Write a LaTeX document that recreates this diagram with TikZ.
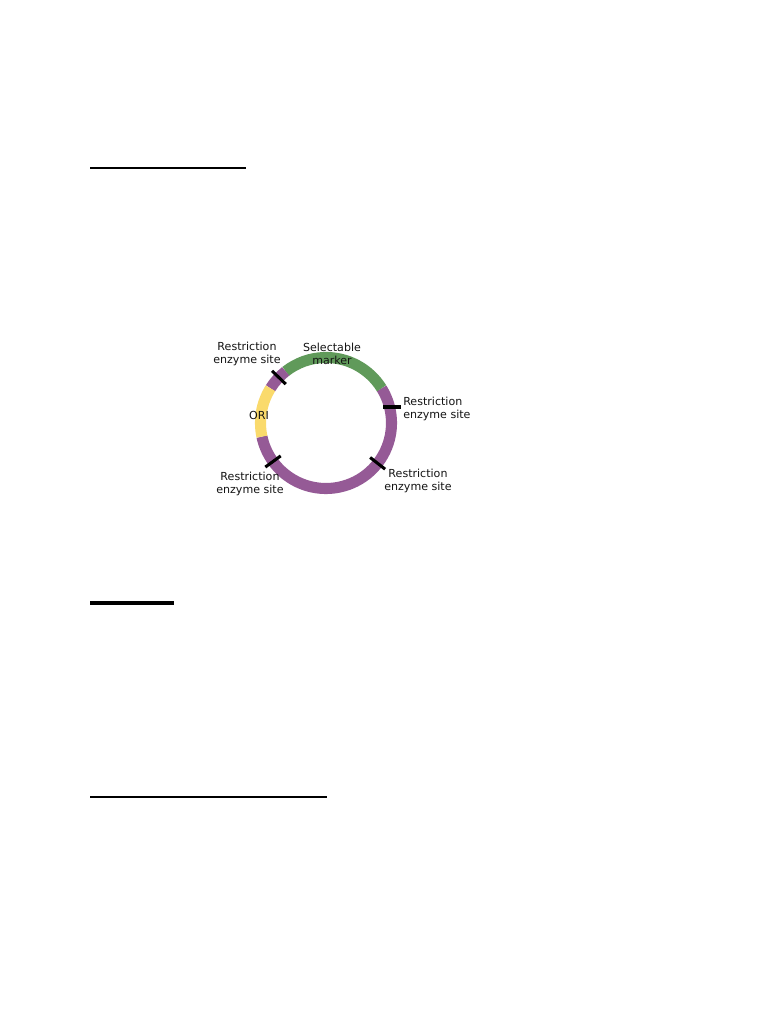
\documentclass[tikz,border=0pt]{standalone}
\usepackage{fontspec}
\newfontfamily\labfont{DejaVu Sans}
\definecolor{ringpurple}{RGB}{149,90,150}
\definecolor{ringgreen}{RGB}{96,154,90}
\definecolor{ringyellow}{RGB}{250,218,108}
\definecolor{labgray}{RGB}{20,20,20}
\tikzset{
  rule/.style={draw=black, line width=1.6pt},
  band/.style={line width=8.3pt, line cap=butt},
  cut/.style={draw=black, line width=2.3pt, line cap=butt},
  lab/.style={inner sep=0pt, text=labgray, font=\labfont\fontsize{8.3pt}{9.8pt}\selectfont}
}
\begin{document}
\begin{tikzpicture}[x=0.75pt, y=0.75pt]
\useasboundingbox[fill=white] (0,0) rectangle (768,1024);
% header rules
\coordinate (r1a) at (90,856); \coordinate (r1b) at (246,856);
\coordinate (r2a) at (90,421); \coordinate (r2b) at (174,421);
\coordinate (r3a) at (90,227); \coordinate (r3b) at (327,227);
\draw[rule] (r1a) -- (r1b);
\draw[rule, line width=2.6pt] (r2a) -- (r2b);
\draw[rule] (r3a) -- (r3b);
% plasmid ring
\coordinate (C) at (326,601);
\draw[band, ringpurple] ([shift={(192:65.5)}]C) arc[start angle=192, end angle=392, radius=65.5];
\draw[band, ringgreen] ([shift={(32:65.5)}]C) arc[start angle=32, end angle=128, radius=65.5];
\draw[band, ringpurple] ([shift={(128:65.5)}]C) arc[start angle=128, end angle=148, radius=65.5];
\draw[band, ringyellow] ([shift={(148:65.5)}]C) arc[start angle=148, end angle=192, radius=65.5];
% restriction sites
\draw[cut] ([shift={(136:56)}]C) -- ([shift={(136:75)}]C);
\draw[cut] ([shift={(216:56)}]C) -- ([shift={(216:75)}]C);
\draw[cut] ([shift={(-38:56)}]C) -- ([shift={(-38:75)}]C);
\coordinate (t2a) at (383,617); \coordinate (t2b) at (401,617);
\draw[cut] (t2a) -- (t2b);
% labels
\node[lab, align=center] (rs1) at (247,670.5) {Restriction\\enzyme site};
\node[lab, align=center] (sm) at (332,670.5) {Selectable\\marker};
\node[lab, align=left, anchor=west] (rs2) at (403,615.5) {Restriction\\enzyme site};
\node[lab] (ori) at (259,609) {ORI};
\node[lab, align=center] (rs3) at (250,540.5) {Restriction\\enzyme site};
\node[lab, align=center] (rs4) at (418,543.5) {Restriction\\enzyme site};
\end{tikzpicture}
\end{document}
